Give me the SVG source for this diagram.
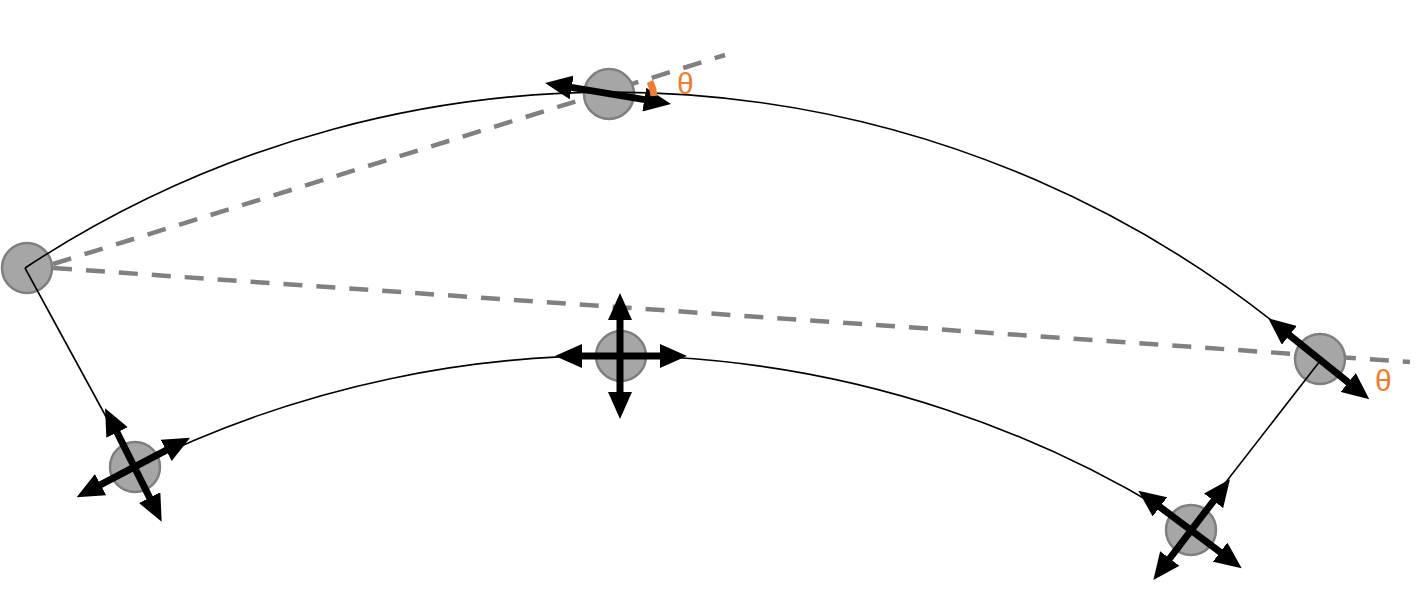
<svg xmlns="http://www.w3.org/2000/svg" width="1428" height="605" viewBox="0 0 1428 605">
  <style>
    .node { fill: #a6a6a6; stroke: #7f7f7f; stroke-width: 2.5; }
    .edge { fill: none; stroke: #000000; stroke-width: 1.6; }
    .guide { fill: none; stroke: #808080; stroke-width: 4.5; stroke-dasharray: 19 14; }
    .arrow { fill: none; stroke: #000000; stroke-width: 7; marker-start: url(#head); marker-end: url(#head); }
    .angle { fill: none; stroke: #ED7D31; stroke-width: 7; }
    .theta { fill: #ED7D31; font-family: "Liberation Sans", Arial, sans-serif; font-size: 30px; }
  </style>
  <defs>
    <marker id="head" markerUnits="userSpaceOnUse" markerWidth="27" markerHeight="24" refX="17" refY="12" orient="auto-start-reverse">
      <path d="M0,0 L27,12 L0,24 z" fill="#000000"/>
    </marker>
  </defs>
  <rect width="1428" height="605" fill="#ffffff"/>

  <g id="guides">
    <line class="guide" x1="53" y1="264" x2="725" y2="55"/>
    <line class="guide" x1="53" y1="268" x2="1410" y2="362"/>
  </g>

  <g id="n-left"><circle class="node" cx="27" cy="268" r="25"/></g>
  <g id="n-top"><circle class="node" cx="609" cy="94" r="25"/></g>
  <g id="n-right"><circle class="node" cx="1320" cy="359" r="25"/></g>
  <g id="n-mid"><circle class="node" cx="621" cy="356" r="25"/></g>
  <g id="n-bl"><circle class="node" cx="135" cy="467" r="25"/></g>
  <g id="n-br"><circle class="node" cx="1191" cy="530" r="25"/></g>

  <g id="connectors">
    <path class="edge" d="M25,268 A1067,1067 0 0 1 1320,361"/>
    <path class="edge" d="M134,468 A1068,1068 0 0 1 1191,527"/>
    <line class="edge" x1="25" y1="268" x2="134" y2="468"/>
    <line class="edge" x1="1320" y1="361" x2="1191" y2="527"/>
  </g>

  <g id="arrows">
    <line class="arrow" x1="554.9" y1="84.6" x2="661.1" y2="102.4"/>
    <line class="arrow" x1="1276.1" y1="324.6" x2="1361.5" y2="393.1"/>
    <line class="arrow" x1="109.5" y1="417.3" x2="157.2" y2="512.8"/>
    <line class="arrow" x1="85.5" y1="492.6" x2="181.2" y2="442.4"/>
    <line class="arrow" x1="1146.3" y1="496.7" x2="1233.7" y2="562.3"/>
    <line class="arrow" x1="1159.4" y1="572.0" x2="1223.9" y2="487.3"/>
    <line class="arrow" x1="565" y1="356" x2="677" y2="356"/>
    <line class="arrow" x1="620" y1="303" x2="620" y2="409"/>
  </g>

  <g id="angle-top">
    <path class="angle" d="M650,81.5 A44,44 0 0 1 654,96"/>
    <text class="theta" x="677" y="94">θ</text>
  </g>
  <g id="angle-right">
    <text class="theta" x="1375" y="391">θ</text>
  </g>
</svg>
